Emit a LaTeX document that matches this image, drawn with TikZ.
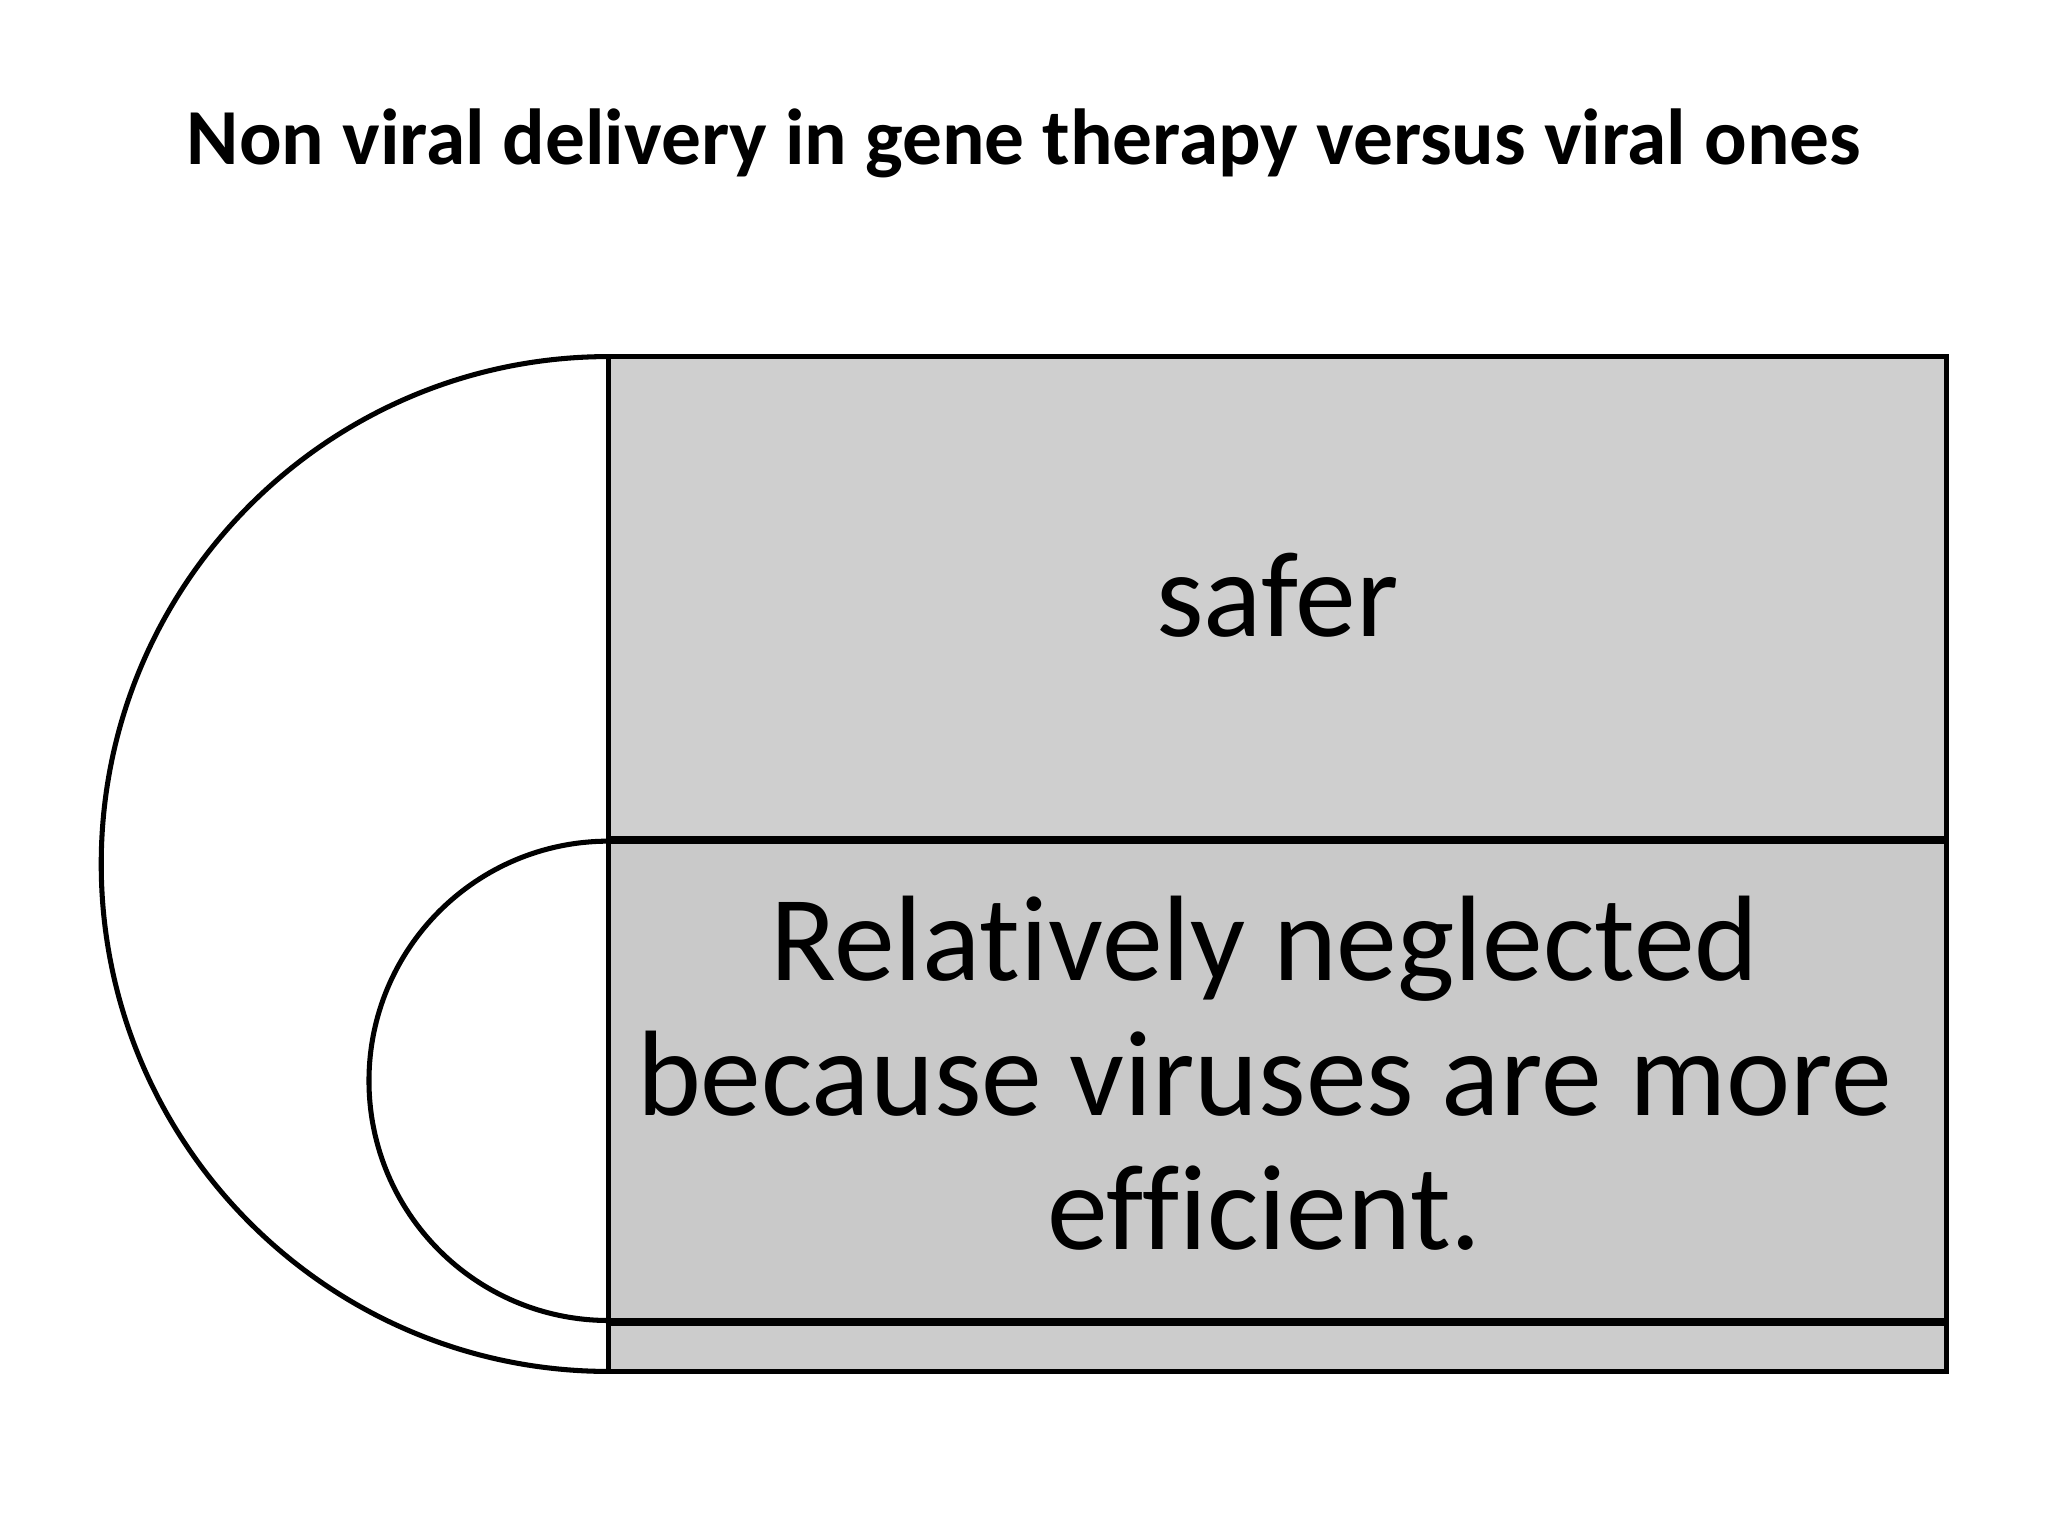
\documentclass[tikz,border=0pt]{standalone}
\usepackage{fontspec}
\setmainfont{Carlito}[Ligatures=NoCommon]
\begin{document}
\begin{tikzpicture}[x=0.02cm,y=-0.02cm,
  ln/.style={line width=2.2pt,black},
  box/.style={ln,fill=#1}]
\useasboundingbox (0,0) rectangle (1568,1176);
\node[font=\fontsize{34.6}{40}\selectfont\bfseries] (title) at (784,110) {Non viral delivery in gene therapy versus viral ones};
\draw[box=gray!38] (466,273) rectangle (1490,642);
\draw[box=gray!42] (466,644) rectangle (1490,1011);
\draw[box=gray!40] (466,1013) rectangle (1490,1050);
\draw[ln] (466,273) arc[start angle=-90,end angle=-270,radius=388.5];
\draw[ln] (466,644) arc[start angle=-90,end angle=-270,radius=183.5];
\node[font=\fontsize{53}{60}\selectfont] (safer) at (978,456) {safer};
\node[align=center,font=\fontsize{53}{58.6}\selectfont] (neg) at (968,822) {Relatively neglected\\because viruses are more\\efficient.};
\end{tikzpicture}
\end{document}
